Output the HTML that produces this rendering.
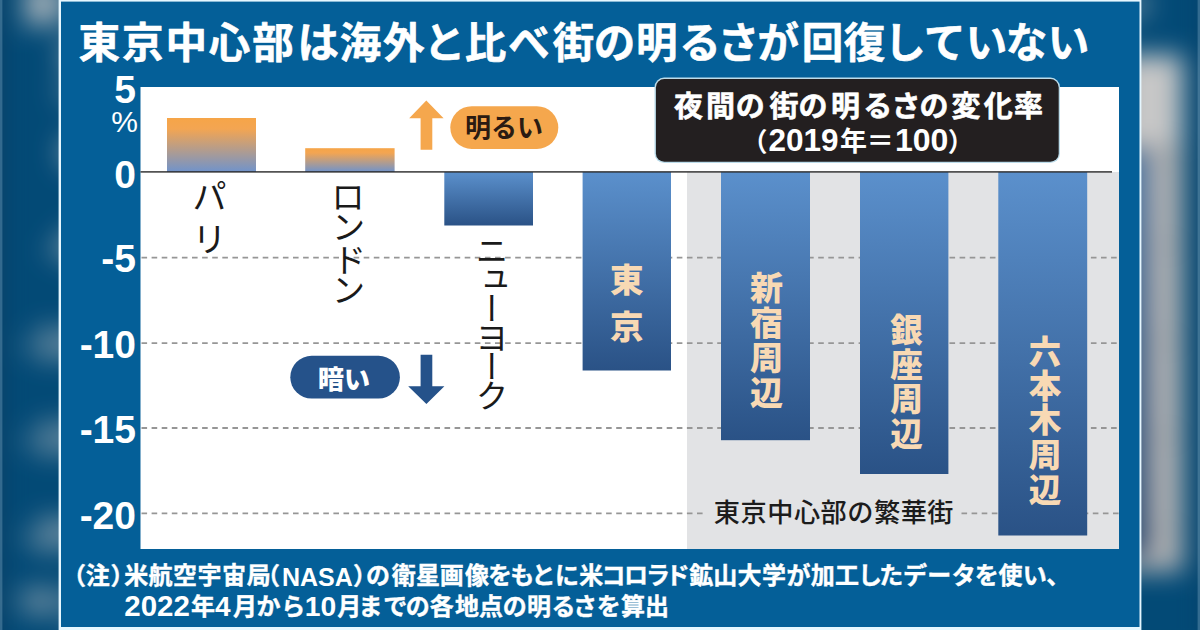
<!DOCTYPE html>
<html lang="ja"><head><meta charset="utf-8"><title>chart</title><style>html,body{margin:0;padding:0;background:#12507f;font-family:"Liberation Sans",sans-serif}svg{display:block}</style></head><body><svg width="1200" height="630" viewBox="0 0 1200 630" role="img" aria-label="東京中心部は海外と比べ街の明るさが回復していない"><desc>東京中心部は海外と比べ街の明るさが回復していない。夜間の街の明るさの変化率（2019年＝100）。パリ、ロンドン、ニューヨーク、東京、新宿周辺、銀座周辺、六本木周辺。東京中心部の繁華街。明るい／暗い。（注）米航空宇宙局（NASA）の衛星画像をもとに米コロラド鉱山大学が加工したデータを使い、2022年4月から10月までの各地点の明るさを算出</desc><defs><linearGradient id="gb" x1="0" y1="0" x2="0" y2="1"><stop offset="0" stop-color="#5b90cc"/><stop offset="1" stop-color="#2a5286"/></linearGradient><linearGradient id="go" x1="0" y1="0" x2="0" y2="1"><stop offset="0" stop-color="#f6a548"/><stop offset="0.2" stop-color="#f3a552"/><stop offset="1" stop-color="#7093cb"/></linearGradient><filter id="blur" color-interpolation-filters="sRGB" x="-5%" y="-5%" width="110%" height="110%"><feGaussianBlur stdDeviation="13"/></filter></defs><rect width="1200" height="630" fill="#12507f"/>
<g filter="url(#blur)"><use href="#main" transform="translate(-68.3 -42.3) scale(1.118)"/></g>
<rect width="1200" height="630" fill="#000" opacity="0.22"/>
<rect x="0" y="0" width="2.4" height="630" fill="#9cc4dc" opacity="0.3"/>
<rect x="1197.6" y="0" width="2.4" height="630" fill="#9cc4dc" opacity="0.3"/>
<rect x="58.6" y="0" width="1082.8" height="630" fill="#e6f7ff"/>
<g id="main" font-family="'Liberation Sans','Noto Sans CJK JP',sans-serif">
<rect x="61" y="1.6" width="1078.5" height="625.4" fill="#045f98"/>
<rect x="140.5" y="87" width="978.5" height="462" fill="#fff"/>
<rect x="687" y="172" width="432" height="377" fill="#e2e3e5"/>
<path d="M141.5 257.7 H1119" stroke="#969696" stroke-width="1.8" stroke-dasharray="5.6 4.5" fill="none"/>
<path d="M141.5 343.2 H1119" stroke="#969696" stroke-width="1.8" stroke-dasharray="5.6 4.5" fill="none"/>
<path d="M141.5 428.0 H1119" stroke="#969696" stroke-width="1.8" stroke-dasharray="5.6 4.5" fill="none"/>
<path d="M141.5 513.4 H704" stroke="#969696" stroke-width="1.8" stroke-dasharray="5.6 4.5" fill="none"/>
<path d="M961.5 513.4 H1119" stroke="#969696" stroke-width="1.8" stroke-dasharray="5.6 4.5" fill="none"/>
<rect x="167" y="118" width="89" height="54" fill="url(#go)"/>
<rect x="305.2" y="148.2" width="89.4" height="23.8" fill="url(#go)"/>
<rect x="444.3" y="172" width="88.7" height="53.5" fill="url(#gb)"/>
<rect x="582.6" y="172" width="88.4" height="198.5" fill="url(#gb)"/>
<rect x="721" y="172" width="89" height="268.2" fill="url(#gb)"/>
<rect x="860" y="172" width="88.4" height="302" fill="url(#gb)"/>
<rect x="998.3" y="172" width="88.9" height="363.5" fill="url(#gb)"/>
<rect x="140.5" y="171.2" width="971.5" height="1.4" fill="#2a2a2a"/>
<rect x="654.5" y="77.6" width="405.5" height="85.4" rx="9.6" fill="#bcdcea"/>
<rect x="655.9" y="79" width="402.8" height="82.8" rx="8.4" fill="#231f20"/>
<rect x="450.3" y="106.2" width="108" height="42.8" rx="21.4" fill="#f5a74d"/>
<path d="M426.3 100.6 L443.6 118.2 H432.3 V149.7 H420.6 V118.2 H409.2 Z" fill="#f5a74d"/>
<rect x="290.3" y="355.8" width="109.6" height="42.8" rx="21.4" fill="#25528a"/>
<path d="M426.4 404 L444.4 386.2 H432.3 V354.7 H420.6 V386.2 H408.2 Z" fill="#25528a"/>
<text y="57.5" font-size="41.5" font-weight="bold" fill="#fff" stroke="#fff" stroke-width="0.6" stroke-linejoin="round" x="78.57 122.01 165.51 208.63 252.28 297.38 339.73 382.93 423.65 464.63 508.28 552.81 593.69 635.92 679.36 717.67 757.45 801.73 843.69 884.16 923.96 965.8 1005.86 1047.65">東京中心部は海外と比べ街の明るさが回復していない</text>
<text x="136" y="102.85" font-size="39" font-weight="bold" fill="#fff" text-anchor="end">5</text>
<text x="138" y="132.3" font-size="30" fill="#fff" text-anchor="end">%</text>
<text x="136" y="187.87" font-size="39" font-weight="bold" fill="#fff" text-anchor="end">0</text>
<text x="136" y="272.45" font-size="39" font-weight="bold" fill="#fff" text-anchor="end">-5</text>
<text x="136" y="358.4" font-size="39" font-weight="bold" fill="#fff" text-anchor="end">-10</text>
<text x="136" y="443.3" font-size="39" font-weight="bold" fill="#fff" text-anchor="end">-15</text>
<text x="136" y="529" font-size="39" font-weight="bold" fill="#fff" text-anchor="end">-20</text>
<text font-size="34" fill="#1a1a1a"><tspan x="192.5" y="209.3">パ</tspan><tspan x="192.5" y="252.1">リ</tspan></text>
<text font-size="33" fill="#1a1a1a"><tspan x="331.5" y="209.3">ロ</tspan><tspan x="332" y="238.8">ン</tspan><tspan x="333" y="271.6">ド</tspan><tspan x="332" y="301.8">ン</tspan></text>
<text x="489.5" y="234" font-size="33" letter-spacing="-4" fill="#1a1a1a" writing-mode="vertical-rl" style="writing-mode:vertical-rl">ニューヨーク</text>
<text font-size="33.5" font-weight="900" fill="#f8d9b4"><tspan x="610" y="292.1">東</tspan><tspan x="610" y="339">京</tspan></text>
<text font-size="33" font-weight="900" fill="#f8d9b4"><tspan x="750" y="299.8">新</tspan><tspan x="750" y="335">宿</tspan><tspan x="750" y="369.5">周</tspan><tspan x="750" y="404.7">辺</tspan></text>
<text font-size="32.5" font-weight="900" fill="#f8d9b4"><tspan x="890.2" y="342.1">銀</tspan><tspan x="890.2" y="377.2">座</tspan><tspan x="890.2" y="410.6">周</tspan><tspan x="890.2" y="445.5">辺</tspan></text>
<text font-size="32.5" font-weight="900" fill="#f8d9b4"><tspan x="1028.8" y="363.7">六</tspan><tspan x="1028.8" y="397.7">本</tspan><tspan x="1028.8" y="432.2">木</tspan><tspan x="1028.8" y="467.2">周</tspan><tspan x="1028.8" y="502.4">辺</tspan></text>
<text y="117.3" font-size="29" font-weight="bold" fill="#fff" stroke="#fff" stroke-width="0.6" stroke-linejoin="round" x="674 706.06 735.72 769.53 798.46 831.09 863.23 891.52 919.5 951.49 983.64 1014.03">夜間の街の明るさの変化率</text>
<text y="150.6" font-weight="bold" fill="#fff"><tspan x="741.5" font-size="26">（</tspan><tspan x="768.4" font-size="31.5">2019</tspan><tspan x="840" font-size="27">年</tspan><tspan x="866.5" font-size="27.5">＝</tspan><tspan x="895" font-size="32">100</tspan><tspan x="947.8" font-size="26">）</tspan></text>
<text x="465" y="137" font-size="26" font-weight="bold" fill="#2b1b12">明るい</text>
<text x="317.9" y="388.6" font-size="26" font-weight="900" fill="#fff">暗い</text>
<text x="713.85" y="521.8" font-size="26.2" font-weight="500" fill="#1c1c1c" textLength="239.7" lengthAdjust="spacing">東京中心部の繁華街</text>
<text font-size="24" font-weight="bold" fill="#fff"><tspan y="584" stroke="#fff" stroke-width="0.4" x="62.11 85.72 110.49 124.16 148.58 173.02 197.49 221.88 246.8 255.91">（注）米航空宇宙局（</tspan><tspan x="281.9" y="585.5" font-size="25">NASA</tspan><tspan y="584" stroke="#fff" stroke-width="0.4" x="352.99 366.06 391.66 415.94 439.69 465.01 488.02 510.23 531.61 555.07 579.16 601.5 623.88 646.04 665.83 689.25 713.16 737.39 761.91 786.61 810.87 834.9 857.95 879.37 902.99 927.21 951.68 974.77 998.47 1022.63 1046.26">）の衛星画像をもとに米コロラド鉱山大学が加工したデータを使い、</tspan></text>
<text font-size="24" font-weight="bold" fill="#fff"><tspan x="124.3" y="615.5" font-size="29.5">2022</tspan><tspan x="190.99" y="614.6" stroke="#fff" stroke-width="0.4">年</tspan><tspan x="215.1" y="615.5" font-size="28">4</tspan><tspan y="614.6" stroke="#fff" stroke-width="0.4" x="233.08 256.5 281.35">月から</tspan><tspan x="304.7" y="615.5" font-size="28.3">10</tspan><tspan y="614.6" stroke="#fff" stroke-width="0.4" x="337.33 358.48 383.14 405.81 429.77 454.96 478.99 502.81 526.97 551.6 573.01 596.77 621.01 644.89">月までの各地点の明るさを算出</tspan></text>
</g></svg></body></html>
